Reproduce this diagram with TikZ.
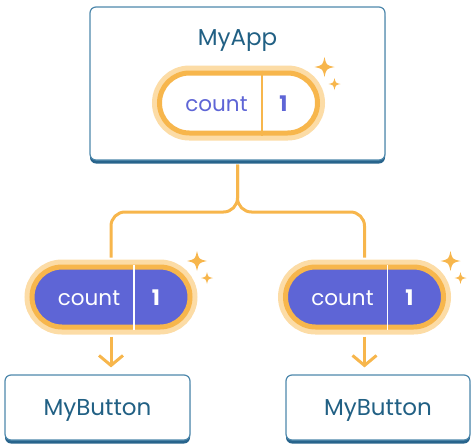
\documentclass[tikz,border=0pt]{standalone}
\usepackage{fontspec}
\setmainfont{Poppins}
\usetikzlibrary{arrows.meta, calc}

\definecolor{boxline}{RGB}{78,136,172}
\definecolor{boxshadow}{RGB}{40,100,140}
\definecolor{boxtext}{RGB}{33,96,132}
\definecolor{stateorange}{RGB}{247,182,76}
\definecolor{stateglow}{RGB}{252,220,166}
\definecolor{stateblue}{RGB}{94,101,214}

\tikzset{
	sparkles/.pic = {
		\fill [stateorange, shift = {(86, -36)}, scale = 10] (0, 1) .. controls (0.18, 0.18) .. (1, 0) .. controls (0.18, -0.18) .. (0, -1) .. controls (-0.18, -0.18) .. (-1, 0) .. controls (-0.18, 0.18) .. cycle;
		\fill [stateorange, shift = {(96, -19)}, scale = 6] (0, 1) .. controls (0.18, 0.18) .. (1, 0) .. controls (0.18, -0.18) .. (0, -1) .. controls (-0.18, -0.18) .. (-1, 0) .. controls (-0.18, 0.18) .. cycle;
	}
}

\begin{document}
\begin{tikzpicture}[x = 1pt, y = -1pt,
	box/.style = {draw = boxline, line width = 1.2pt, fill = white, rounded corners = 6pt,
		preaction = {fill = boxshadow, transform canvas = {yshift = -3.5pt}}},
	boxlabel/.style = {text = boxtext, font = \fontsize{23}{26}\selectfont},
	pill/.style = {draw = stateorange, line width = 5pt, rounded corners = 30pt,
		minimum width = 158pt, minimum height = 60pt,
		preaction = {draw = stateglow, line width = 15pt}},
	conn/.style = {draw = stateorange, line width = 3pt, rounded corners = 14pt},
	statetext/.style = {font = \fontsize{21.5}{24}\selectfont},
	statevalue/.style = {font = \fontsize{21.5}{24}\selectfont\bfseries}]

	\useasboundingbox (0, 0) rectangle (474, 445);

	% Boxes

	\node [box, minimum width = 295pt, minimum height = 153pt] (app) at (237.5, 83.5) {};
	\node [boxlabel] (applabel) at (237.5, 41) {MyApp};

	\node [box, minimum width = 185pt, minimum height = 65pt] (lbutton) at (97.5, 407.5) {};
	\node [boxlabel] at ([yshift = -3pt] lbutton.center) {MyButton};

	\node [box, minimum width = 184pt, minimum height = 65pt] (rbutton) at (378, 407.5) {};
	\node [boxlabel] at ([yshift = -3pt] rbutton.center) {MyButton};

	% State pills

	\node [pill, fill = white] (apppill) at (238.5, 103) {};
	\draw [stateorange, line width = 2pt] ([xshift = 23pt] apppill.north) -- ([xshift = 23pt] apppill.south);
	\node [statetext, text = stateblue] at ([xshift = -22pt, yshift = -1pt] apppill.center) {count};
	\node [statevalue, text = stateblue] at ([xshift = 45pt, yshift = -1pt] apppill.center) {1};
	\pic at (apppill.center) {sparkles};

	\node [pill, fill = stateblue] (lpill) at (111, 297) {};
	\draw [white, line width = 1.5pt] ([xshift = 23pt] lpill.north) -- ([xshift = 23pt] lpill.south);
	\node [statetext, text = white] at ([xshift = -22pt, yshift = -1pt] lpill.center) {count};
	\node [statevalue, text = white] at ([xshift = 45pt, yshift = -1pt] lpill.center) {1};
	\pic at (lpill.center) {sparkles};

	\node [pill, fill = stateblue] (rpill) at (364.5, 297) {};
	\draw [white, line width = 1.5pt] ([xshift = 23pt] rpill.north) -- ([xshift = 23pt] rpill.south);
	\node [statetext, text = white] at ([xshift = -22pt, yshift = -1pt] rpill.center) {count};
	\node [statevalue, text = white] at ([xshift = 45pt, yshift = -1pt] rpill.center) {1};
	\pic at (rpill.center) {sparkles};

	% Connectors

	\coordinate (fork) at (238, 212);
	\draw [conn, shorten >= 7pt] ([yshift = -4pt] app.south) |- (fork -| lpill.north) -- (lpill.north);
	\draw [conn, shorten >= 7pt] ([yshift = -4pt] app.south) |- (fork -| rpill.north) -- (rpill.north);

	\draw [conn, -{Straight Barb[length = 10pt, width = 24pt]}, shorten <= 7pt, shorten >= 7pt] (lpill.south) -- (lpill.south |- lbutton.north);
	\draw [conn, -{Straight Barb[length = 10pt, width = 24pt]}, shorten <= 7pt, shorten >= 7pt] (rpill.south) -- (rpill.south |- rbutton.north);

\end{tikzpicture}
\end{document}
